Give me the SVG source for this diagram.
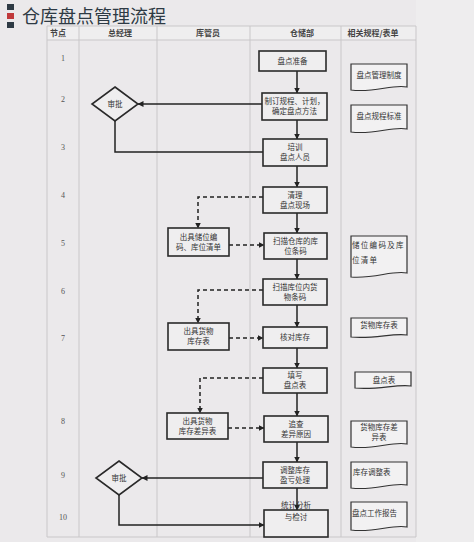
<svg xmlns="http://www.w3.org/2000/svg" width="474" height="542" viewBox="0 0 474 542">
<defs>
<marker id="ah" viewBox="0 0 6 6" refX="5.5" refY="3" markerWidth="6" markerHeight="6" markerUnits="userSpaceOnUse" orient="auto"><path d="M0,0 L6,3 L0,6 Z" fill="#222"/></marker>
<style>
text{font-family:"Noto Sans CJK SC","Liberation Sans",sans-serif;fill:#333;font-size:7.5px;text-anchor:middle}
.title{font-size:18px;text-anchor:start;fill:#2e3a44}
.hd{font-weight:bold;font-size:8px;fill:#444}
.num{font-family:"Liberation Serif",serif;font-size:8px;fill:#555}
.grid{stroke:#c9c7c9;stroke-width:1;fill:none}
.box{fill:#efeeef;stroke:#2a2a2a;stroke-width:1.6}
.doc{fill:#f2f1f2;stroke:#333;stroke-width:1.2}
.solid{stroke:#222;stroke-width:1.5;fill:none}
.dash{stroke:#222;stroke-width:1.5;fill:none;stroke-dasharray:4 3}
.l{text-anchor:start}
</style>
</defs>
<rect width="474" height="542" fill="#ebe9eb"/>
<rect x="416" y="0" width="58" height="542" fill="#eeedee"/>
<g id="title">
<rect x="7" y="4" width="7" height="6" fill="#2e3a44"/>
<rect x="7" y="13" width="7" height="6" fill="#c0393b"/>
<rect x="7" y="22" width="7" height="6" fill="#2e3a44"/>
<text class="title" x="22" y="23">仓库盘点管理流程</text>
</g>
<g id="table">
<rect x="47" y="26" width="369" height="14" fill="#efeeef"/>
<path class="grid" d="M47,26 H416 M47,40 H416 M47,537 H416 M47,26 V537 M79,26 V537 M157,26 V537 M250,26 V537 M341,26 V537 M416,26 V537"/>
<text class="hd" x="58" y="36">节点</text>
<text class="hd" x="120" y="36">总经理</text>
<text class="hd" x="208" y="36">库管员</text>
<text class="hd" x="302" y="36">仓储部</text>
<text class="hd" x="373" y="36">相关规程/表单</text>
<text class="num" x="63" y="61">1</text>
<text class="num" x="63" y="102">2</text>
<text class="num" x="63" y="150">3</text>
<text class="num" x="63" y="198">4</text>
<text class="num" x="63" y="246">5</text>
<text class="num" x="63" y="294">6</text>
<text class="num" x="63" y="341">7</text>
<text class="num" x="63" y="424">8</text>
<text class="num" x="63" y="478">9</text>
<text class="num" x="63" y="520">10</text>
</g>
<g id="connectors">
<path class="solid" d="M297,71 V93" marker-end="url(#ah)"/>
<path class="solid" d="M297,120 V139" marker-end="url(#ah)"/>
<path class="solid" d="M297,166 V187" marker-end="url(#ah)"/>
<path class="solid" d="M297,213 V233" marker-end="url(#ah)"/>
<path class="solid" d="M297,259 V279" marker-end="url(#ah)"/>
<path class="solid" d="M297,305 V327" marker-end="url(#ah)"/>
<path class="solid" d="M297,348 V368" marker-end="url(#ah)"/>
<path class="solid" d="M297,393 V416" marker-end="url(#ah)"/>
<path class="solid" d="M297,442 V462" marker-end="url(#ah)"/>
<path class="solid" d="M297,488 V510" marker-end="url(#ah)"/>
<path class="solid" d="M262,104 H138" marker-end="url(#ah)"/>
<path class="solid" d="M115,121 V152 H263"/>
<path class="solid" d="M263,478 H142" marker-end="url(#ah)"/>
<path class="solid" d="M119,495 V525 H264" marker-end="url(#ah)"/>
<path class="dash" d="M263,197 H198 V228" marker-end="url(#ah)"/>
<path class="dash" d="M229,245 H264" marker-end="url(#ah)"/>
<path class="dash" d="M263,290 H198 V323" marker-end="url(#ah)"/>
<path class="dash" d="M229,338 H263" marker-end="url(#ah)"/>
<path class="dash" d="M263,378 H200 V413" marker-end="url(#ah)"/>
<path class="dash" d="M228,428 H264" marker-end="url(#ah)"/>
</g>
<g id="n1"><rect class="box" x="259" y="51" width="67" height="20"/><text x="292.5" y="64">盘点准备</text></g>
<g id="n2"><rect class="box" x="262" y="93" width="65" height="27"/><text x="294.5" y="104">制订规程、计划，</text><text x="294.5" y="114">确定盘点方法</text></g>
<g id="n3"><rect class="box" x="263" y="139" width="64" height="27"/><text x="295" y="150">培训</text><text x="295" y="160">盘点人员</text></g>
<g id="n4"><rect class="box" x="263" y="187" width="64" height="26"/><text x="295" y="198">清理</text><text x="295" y="208">盘点现场</text></g>
<g id="n5"><rect class="box" x="264" y="233" width="63" height="26"/><text x="295.5" y="244">扫描仓库的库</text><text x="295.5" y="254">位条码</text></g>
<g id="n6"><rect class="box" x="263" y="279" width="64" height="26"/><text x="295" y="290">扫描库位内货</text><text x="295" y="300">物条码</text></g>
<g id="n7"><rect class="box" x="263" y="327" width="64" height="21"/><text x="295" y="340">核对库存</text></g>
<g id="n8"><rect class="box" x="263" y="368" width="64" height="25"/><text x="295" y="378">填写</text><text x="295" y="388">盘点表</text></g>
<g id="n9"><rect class="box" x="264" y="416" width="64" height="26"/><text x="296" y="427">追查</text><text x="296" y="437">差异原因</text></g>
<g id="n10"><rect class="box" x="263" y="462" width="64" height="26"/><text x="295" y="473">调整库存</text><text x="295" y="483">盈亏处理</text></g>
<g id="n11"><rect class="box" x="264" y="510" width="64" height="27"/><text x="296" y="508">统计分析</text><text x="296" y="520">与检讨</text></g>
<g id="d1"><path class="box" d="M115,87 L138,104 L115,121 L92,104 Z"/><text x="115" y="107">审批</text></g>
<g id="d2"><path class="box" d="M119,461 L142,478 L119,495 L96,478 Z"/><text x="119" y="481">审批</text></g>
<g id="k1"><rect class="box" x="168" y="228" width="61" height="28"/><text x="198.5" y="240">出具储位编</text><text x="198.5" y="250">码、库位清单</text></g>
<g id="k2"><rect class="box" x="168" y="323" width="61" height="27"/><text x="198.5" y="334">出具货物</text><text x="198.5" y="344">库存表</text></g>
<g id="k3"><rect class="box" x="167" y="413" width="61" height="26"/><text x="197.5" y="424">出具货物</text><text x="197.5" y="434">库存差异表</text></g>
<g id="f1"><path class="doc" d="M351,64 H407 V87 C392,84 375,93 351,90 Z"/><text x="379" y="78">盘点管理制度</text></g>
<g id="f2"><path class="doc" d="M351,105 H407 V129 C392,126 375,135 351,132 Z"/><text x="379" y="119">盘点规程标准</text></g>
<g id="f3"><path class="doc" d="M351,236 H407 V273 C392,270 375,279 351,277 Z"/><text class="l" x="352" y="248" letter-spacing="1.3">储位编码及库</text><text class="l" x="352" y="263" letter-spacing="1.3">位清单</text></g>
<g id="f4"><path class="doc" d="M351,318 H407 V335 C392,333 375,339 351,337 Z"/><text x="379" y="328">货物库存表</text></g>
<g id="f5"><path class="doc" d="M355,372 H411 V386 C396,384 379,390 355,388 Z"/><text x="384" y="383">盘点表</text></g>
<g id="f6"><path class="doc" d="M351,421 H407 V444 C392,441 375,450 351,447 Z"/><text x="379" y="430">货物库存差</text><text x="379" y="440">异表</text></g>
<g id="f7"><path class="doc" d="M351,462 H407 V485 C392,482 375,491 351,488 Z"/><text class="l" x="353" y="475">库存调整表</text></g>
<g id="f8"><path class="doc" d="M351,502 H407 V527 C392,524 375,533 351,530 Z"/><text class="l" x="352" y="516">盘点工作报告</text></g>
</svg>
